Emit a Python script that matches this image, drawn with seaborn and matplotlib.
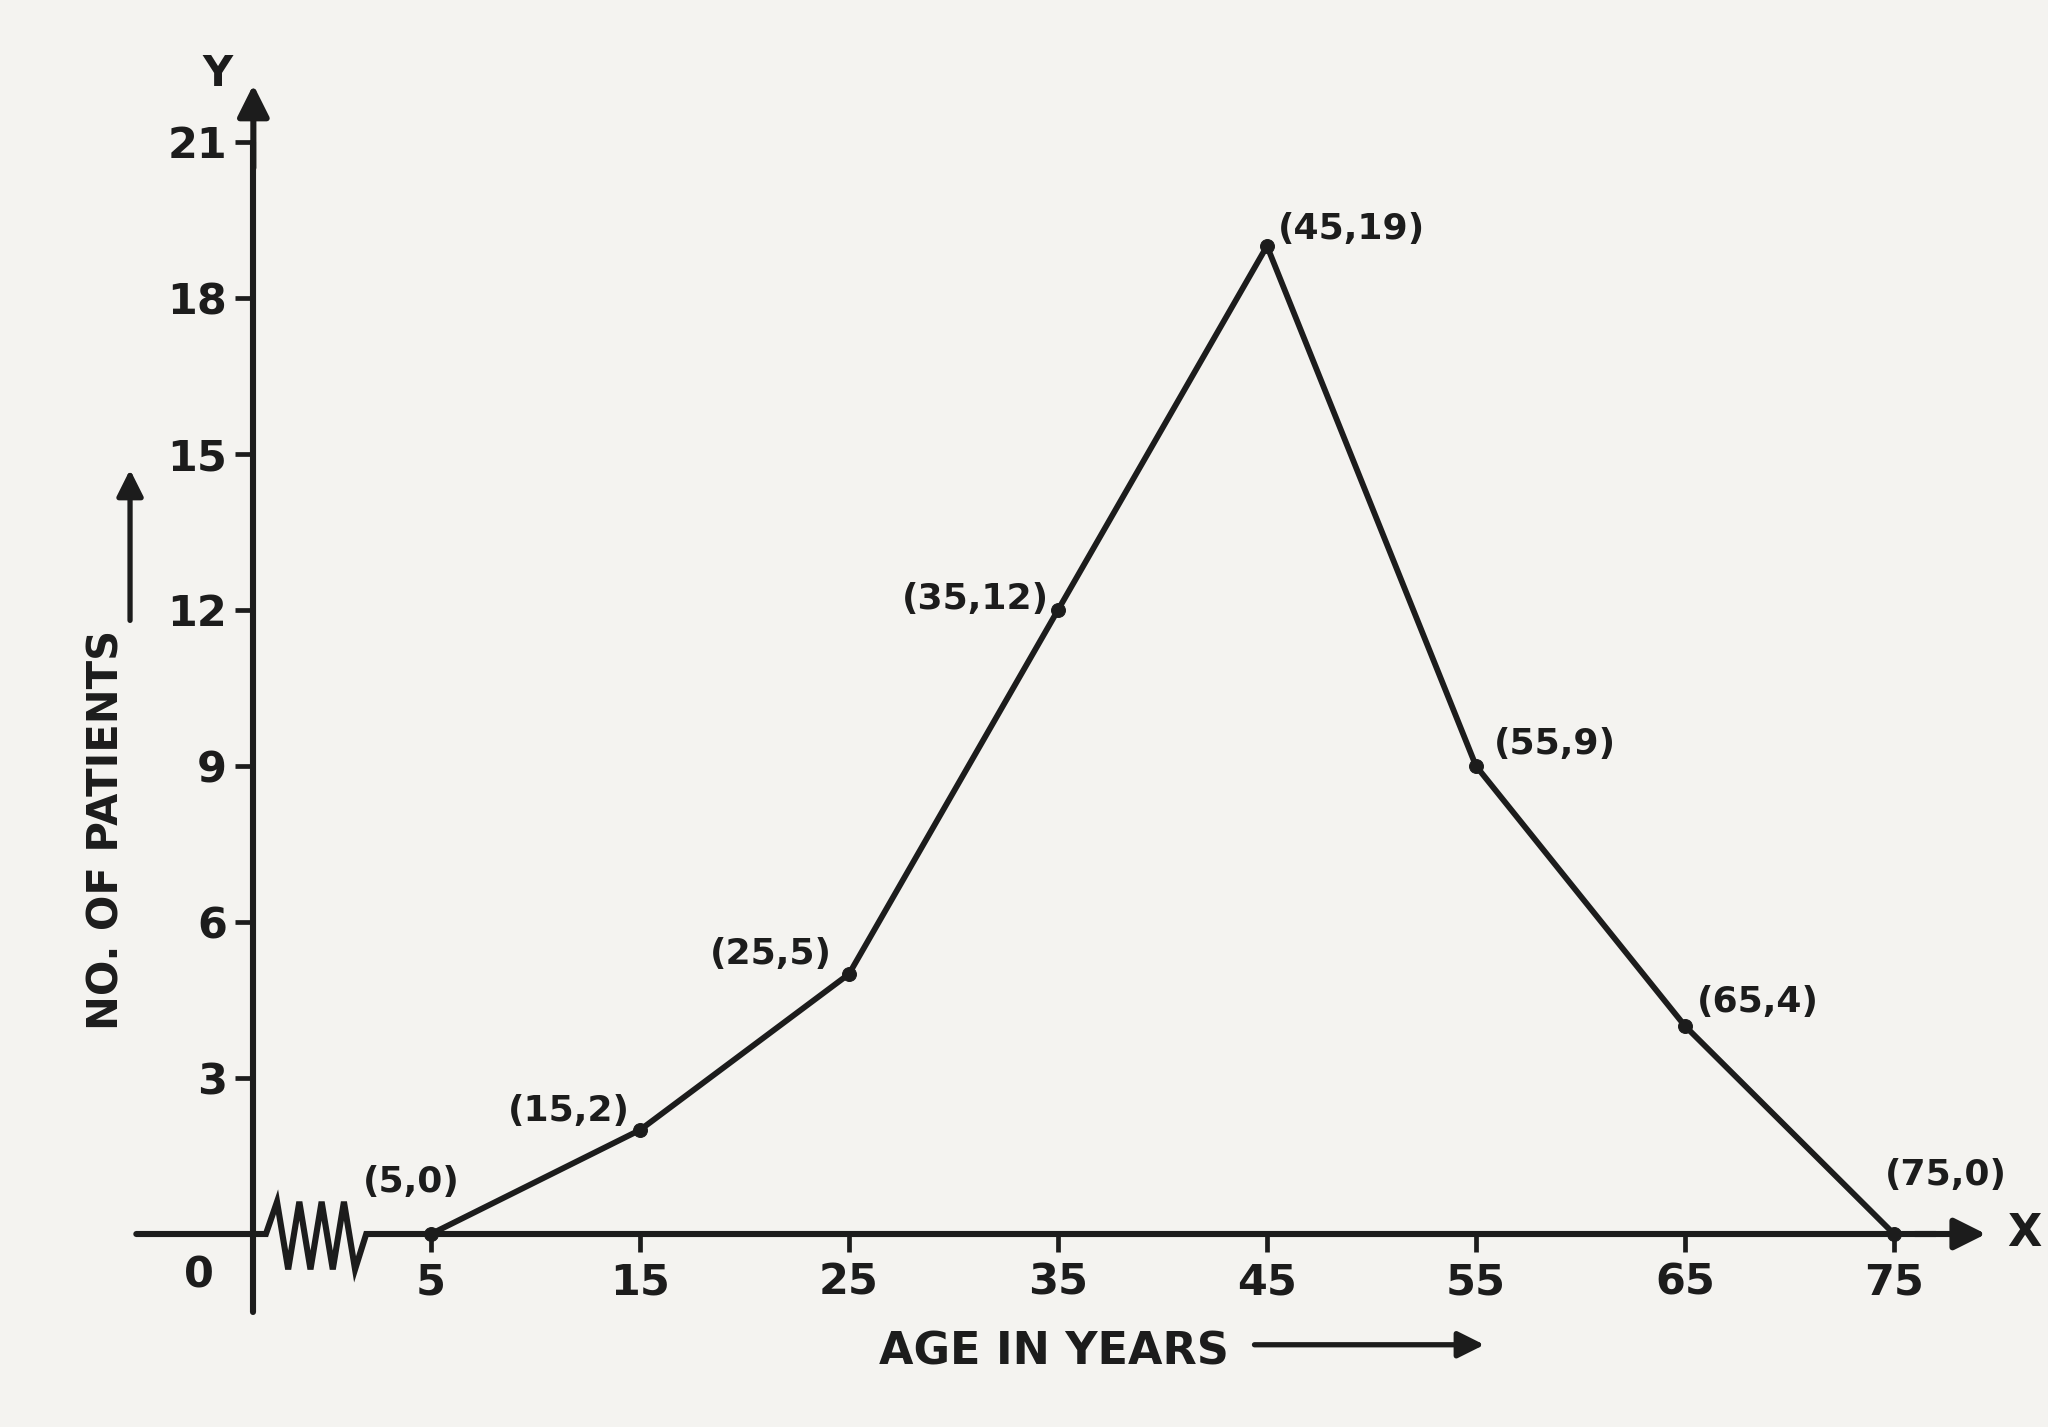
import numpy as np
import pandas as pd
import seaborn as sns
import matplotlib
matplotlib.use("Agg")
import matplotlib.pyplot as plt

AGE = [5, 15, 25, 35, 45, 55, 65, 75]
PATIENTS = [0, 2, 5, 12, 19, 9, 4, 0]
POINT_LABELS = ["(5,0)", "(15,2)", "(25,5)", "(35,12)", "(45,19)", "(55,9)", "(65,4)", "(75,0)"]
X_TICKS = [5, 15, 25, 35, 45, 55, 65, 75]
Y_TICKS = [3, 6, 9, 12, 15, 18, 21]

# label placement (pixels from the point, alignment)
LABEL_OFFSETS = [(-68, 52, "left"), (-10, 19, "right"), (-17, 20, "right"), (-9, 11, "right"),
                 (11, 17, "left"), (18, 22, "left"), (12, 24, "left"), (-9, 59, "left")]

INK = "#1c1c1c"
PAPER = "#f4f3f0"

sns.set_theme(style="white")
plt.rcParams["font.family"] = ["DejaVu Sans"]
plt.rcParams["font.weight"] = "bold"

df = pd.DataFrame({"age": AGE, "patients": PATIENTS})

fig = plt.figure(figsize=(20.48, 14.27), dpi=100, facecolor=PAPER)
ax = fig.add_axes([0, 0, 1, 1])
ax.set_facecolor(PAPER)

# scale: 20.9 px per year, 52 px per patient
ax.set_xlim(5 - 431 / 20.9, 5 + (2048 - 431) / 20.9)
ax.set_ylim(-193 / 52, (1427 - 193) / 52)

XA = -3.5  # where the y axis stands

sns.lineplot(data=df, x="age", y="patients", color=INK, lw=4.2, marker="o",
             markersize=10, markeredgecolor=INK, ax=ax, sort=False)

for (x, y, txt, (dx, dy, ha)) in zip(AGE, PATIENTS, POINT_LABELS, LABEL_OFFSETS):
    ax.annotate(txt, (x, y), xytext=(dx, dy), textcoords="offset pixels",
                ha=ha, va="center", fontsize=26, color=INK)

# x axis with a break between 0 and 5
zz_x = np.linspace(XA + 0.6, 1.9, 10)
zz_y = [0, 0.62, -0.68, 0.62, -0.68, 0.62, -0.68, 0.62, -0.68, 0]
ax.plot([-9.1] + list(zz_x) + [77], [0] + zz_y + [0], color=INK, lw=4.4,
        solid_joinstyle="miter")
arrow = dict(arrowstyle="-|>", lw=4.4, color=INK, mutation_scale=48, shrinkA=0, shrinkB=0)
ax.annotate("", xy=(79.4, 0), xytext=(76, 0), arrowprops=arrow)
ax.text(80.4, 0, "X", fontsize=32, color=INK, ha="left", va="center")

# y axis
ax.plot([XA, XA], [-1.5, 21], color=INK, lw=4.4)
ax.annotate("", xy=(XA, 22.1), xytext=(XA, 20.5), arrowprops=arrow)
ax.text(XA - 1.7, 22.3, "Y", fontsize=30, color=INK, ha="center", va="center")
ax.text(XA - 2.6, -0.8, "0", fontsize=31, color=INK, ha="center", va="center")

ax.spines["bottom"].set_position(("data", 0))
ax.spines["left"].set_position(("data", XA))
for s in ax.spines.values():
    s.set_visible(False)
ax.set_xticks(X_TICKS)
ax.set_yticks(Y_TICKS)
ax.tick_params(axis="x", bottom=True, direction="out", length=13, width=3.4, pad=7,
               labelsize=31, colors=INK)
ax.tick_params(axis="y", left=True, direction="out", length=13, width=3.4, pad=6,
               labelsize=31, colors=INK)
ax.set_xlabel("")
ax.set_ylabel("")

# axis titles with their arrows
ax.text(34.8, -2.27, "AGE IN YEARS", fontsize=32, color=INK, ha="center", va="center")
ax.annotate("", xy=(55.4, -2.13), xytext=(44.4, -2.13),
            arrowprops=dict(arrowstyle="-|>", lw=3.8, color=INK, mutation_scale=40,
                            shrinkA=0, shrinkB=0))
ax.text(-10.55, 7.77, "NO. OF PATIENTS", fontsize=30, color=INK, rotation=90,
        ha="center", va="center")
ax.annotate("", xy=(-9.4, 14.7), xytext=(-9.4, 11.8),
            arrowprops=dict(arrowstyle="-|>", lw=3.8, color=INK, mutation_scale=40,
                            shrinkA=0, shrinkB=0))

fig.savefig("out.png", dpi=100, facecolor=PAPER)
